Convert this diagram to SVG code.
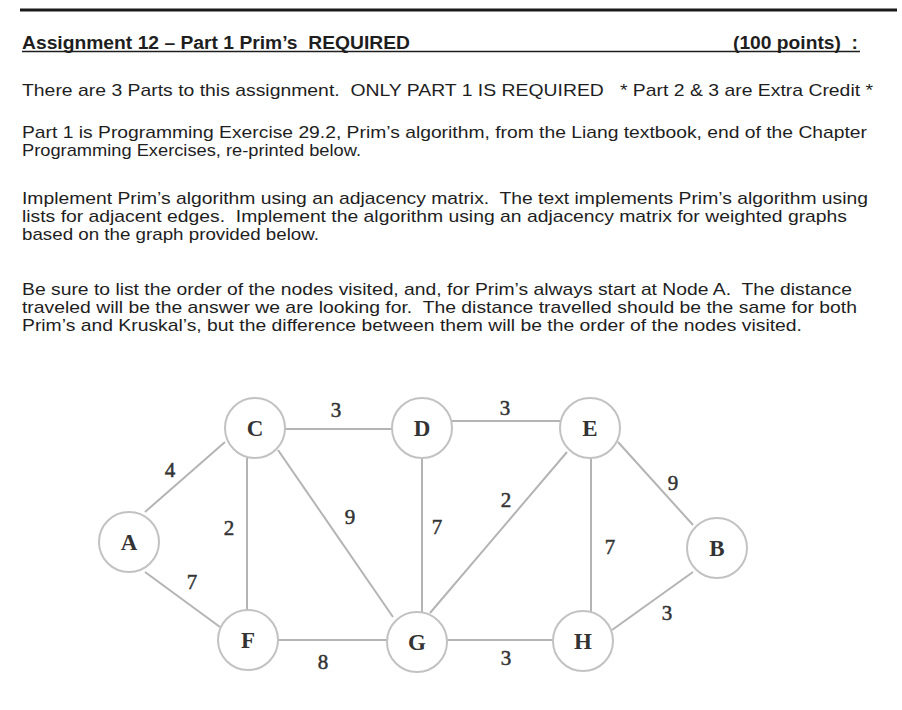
<svg xmlns="http://www.w3.org/2000/svg" width="902" height="710" viewBox="0 0 902 710">
<style>
.t{font-family:"Liberation Sans",Arial,sans-serif;font-size:17px;fill:#1e1e1e;white-space:pre}
.b{font-weight:bold;font-size:17.5px}
.edge{stroke:#b4b4b4;stroke-width:2;fill:none}
.node circle{fill:#fff;stroke:#c2c2c2;stroke-width:2}
.node text{font-family:"Liberation Serif","Times New Roman",serif;font-size:23px;font-weight:bold;fill:#333;text-anchor:middle}
.w{font-family:"Liberation Serif","Times New Roman",serif;font-size:21px;fill:#333;stroke:#333;stroke-width:0.5;text-anchor:middle}
</style>
<rect width="902" height="710" fill="#fff"/>
<line x1="20" y1="10" x2="897" y2="10" stroke="#1a1a1a" stroke-width="3"/>
<g id="header">
<text class="t b" x="22" y="49" textLength="388" lengthAdjust="spacingAndGlyphs" xml:space="preserve">Assignment 12 – Part 1 Prim’s  REQUIRED</text>
<text class="t b" x="733" y="49" textLength="125" lengthAdjust="spacingAndGlyphs" xml:space="preserve">(100 points)  :</text>
<line x1="22" y1="51.5" x2="860" y2="51.5" stroke="#1e1e1e" stroke-width="1.5"/>
</g>
<g id="body">
<text class="t" x="22" y="96" textLength="851" lengthAdjust="spacingAndGlyphs" xml:space="preserve">There are 3 Parts to this assignment.  ONLY PART 1 IS REQUIRED   * Part 2 &amp; 3 are Extra Credit *</text>
<text class="t" x="22" y="138" textLength="845" lengthAdjust="spacingAndGlyphs">Part 1 is Programming Exercise 29.2, Prim’s algorithm, from the Liang textbook, end of the Chapter</text>
<text class="t" x="22" y="156" textLength="339" lengthAdjust="spacingAndGlyphs">Programming Exercises, re-printed below.</text>
<text class="t" x="22" y="204" textLength="846" lengthAdjust="spacingAndGlyphs" xml:space="preserve">Implement Prim’s algorithm using an adjacency matrix.  The text implements Prim’s algorithm using</text>
<text class="t" x="22" y="222" textLength="825" lengthAdjust="spacingAndGlyphs" xml:space="preserve">lists for adjacent edges.  Implement the algorithm using an adjacency matrix for weighted graphs</text>
<text class="t" x="22" y="240" textLength="297" lengthAdjust="spacingAndGlyphs">based on the graph provided below.</text>
<text class="t" x="22" y="295" textLength="830" lengthAdjust="spacingAndGlyphs" xml:space="preserve">Be sure to list the order of the nodes visited, and, for Prim’s always start at Node A.  The distance</text>
<text class="t" x="22" y="313" textLength="835" lengthAdjust="spacingAndGlyphs" xml:space="preserve">traveled will be the answer we are looking for.  The distance travelled should be the same for both</text>
<text class="t" x="22" y="331" textLength="780" lengthAdjust="spacingAndGlyphs">Prim’s and Kruskal’s, but the difference between them will be the order of the nodes visited.</text>
</g>
<g id="connectors">
<line class="edge" x1="145" y1="512" x2="225" y2="442"/>
<line class="edge" x1="145" y1="572" x2="220" y2="627"/>
<line class="edge" x1="247" y1="458" x2="247" y2="610"/>
<line class="edge" x1="285" y1="429" x2="393" y2="429"/>
<line class="edge" x1="278" y1="450" x2="393" y2="617"/>
<line class="edge" x1="422" y1="458" x2="422" y2="612"/>
<line class="edge" x1="452" y1="421" x2="562" y2="421"/>
<line class="edge" x1="430" y1="613" x2="567" y2="452"/>
<line class="edge" x1="591" y1="458" x2="591" y2="612"/>
<line class="edge" x1="618" y1="442" x2="693" y2="525"/>
<line class="edge" x1="278" y1="640" x2="387" y2="640"/>
<line class="edge" x1="445" y1="640" x2="555" y2="640"/>
<line class="edge" x1="612" y1="630" x2="693" y2="572"/>
<text class="w" x="170" y="477">4</text>
<text class="w" x="192" y="589">7</text>
<text class="w" x="229" y="535">2</text>
<text class="w" x="336" y="417">3</text>
<text class="w" x="350" y="524">9</text>
<text class="w" x="437" y="534">7</text>
<text class="w" x="323" y="669">8</text>
<text class="w" x="505" y="415">3</text>
<text class="w" x="506" y="507">2</text>
<text class="w" x="610" y="554">7</text>
<text class="w" x="673" y="490">9</text>
<text class="w" x="667" y="620">3</text>
<text class="w" x="506" y="665">3</text>
</g>
<g id="node-A" class="node"><circle cx="129" cy="542" r="30"/><text x="129" y="550">A</text></g>
<g id="node-C" class="node"><circle cx="255" cy="428" r="30"/><text x="255" y="436">C</text></g>
<g id="node-D" class="node"><circle cx="422" cy="428" r="30"/><text x="422" y="436">D</text></g>
<g id="node-E" class="node"><circle cx="590" cy="428" r="30"/><text x="590" y="436">E</text></g>
<g id="node-B" class="node"><circle cx="717" cy="548" r="30"/><text x="717" y="556">B</text></g>
<g id="node-F" class="node"><circle cx="248" cy="640" r="30"/><text x="248" y="648">F</text></g>
<g id="node-G" class="node"><circle cx="417" cy="642" r="30"/><text x="417" y="650">G</text></g>
<g id="node-H" class="node"><circle cx="583" cy="641" r="30"/><text x="583" y="649">H</text></g>
</svg>
